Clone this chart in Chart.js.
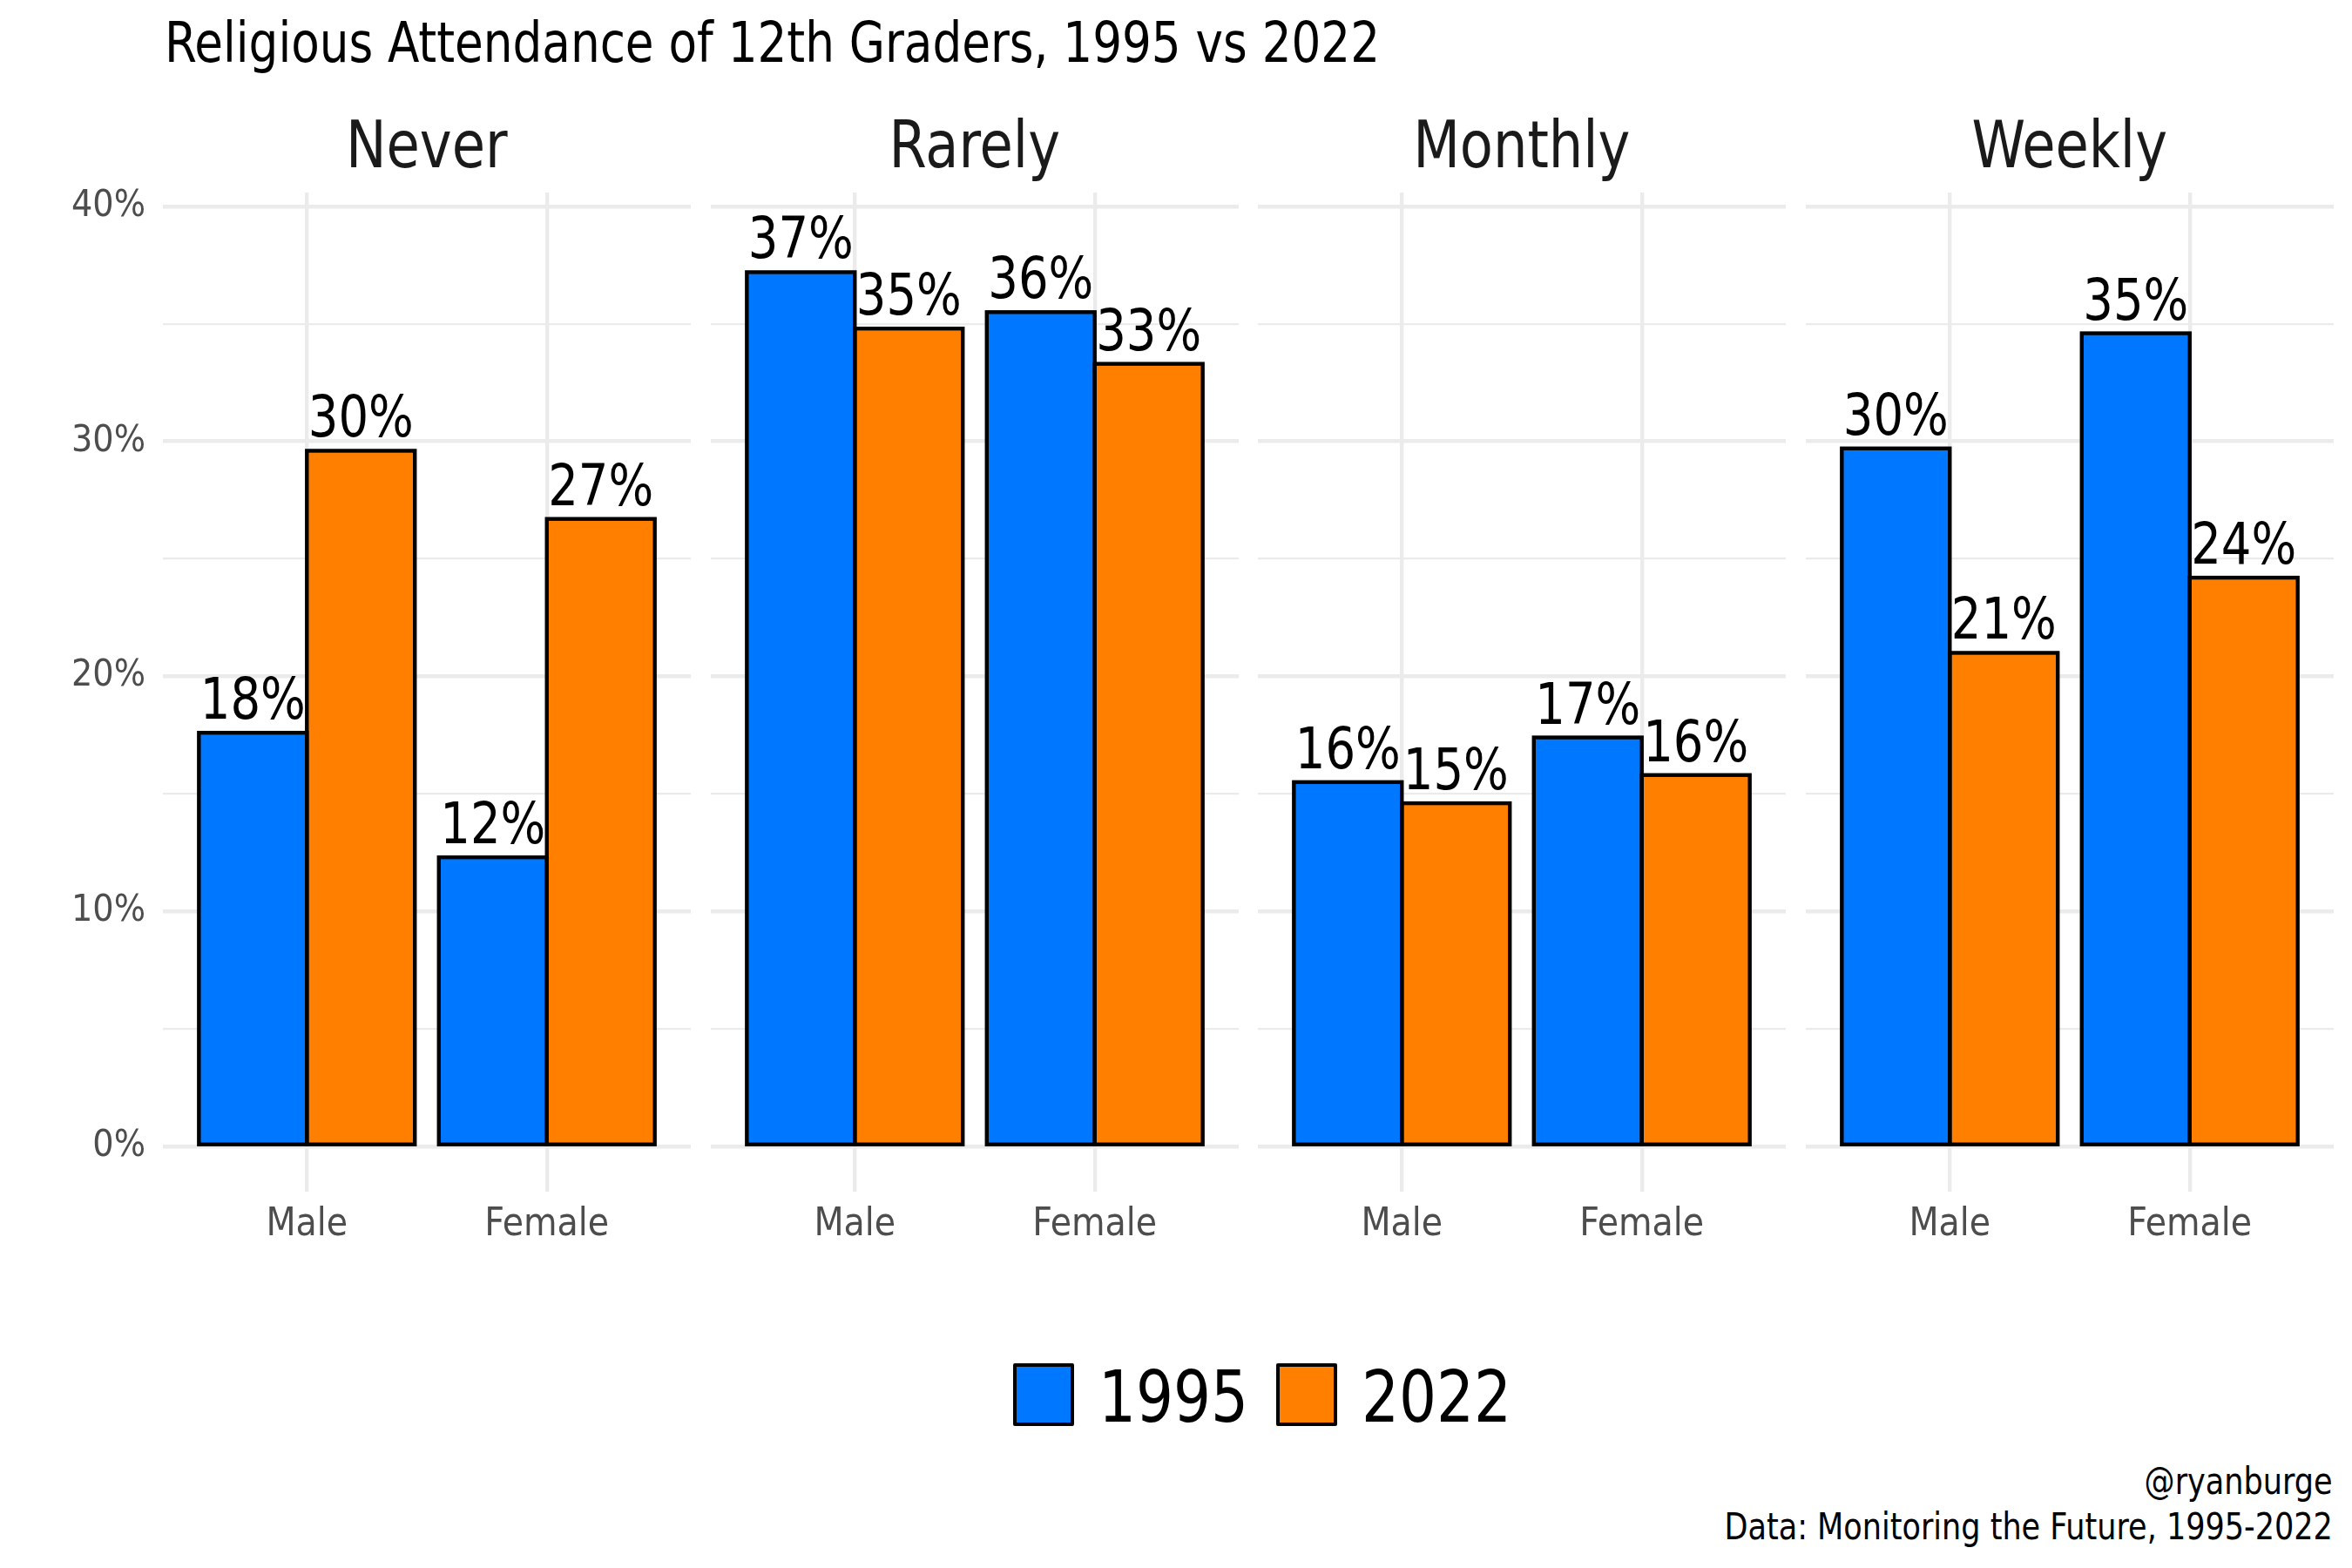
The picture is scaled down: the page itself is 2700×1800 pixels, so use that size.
<!DOCTYPE html>
<html>
<head>
<meta charset="utf-8">
<script src="https://cdn.jsdelivr.net/npm/chart.js@4.4.1/dist/chart.umd.min.js"></script>
<style>
  html, body { margin:0; padding:0; background:#fff; }
  body { width:2700px; height:1800px; position:relative; overflow:hidden;
         font-family:'DejaVu Sans Condensed','DejaVu Sans',sans-serif; }
  .t { position:absolute; white-space:nowrap; line-height:1; }
  canvas { position:absolute; }
  .key { position:absolute; box-sizing:border-box; border:4.4px solid #000; border-radius:2px; }
</style>
</head>
<body>
<div class="t cond" id="title" data-origin="left" style="left:189px; top:17px; font-size:64.5px; color:#000;">Religious Attendance of 12th Graders, 1995 vs 2022</div>
<div id="strips"></div>
<div id="charts"></div>
<div class="key" style="left:1163px; top:1565px; width:70px; height:72px; background:#0077FF;"></div>
<div class="t cond" data-origin="left" style="left:1261px; top:1563px; font-size:82px; color:#000;">1995</div>
<div class="key" style="left:1465px; top:1565px; width:70px; height:72px; background:#FF7F00;"></div>
<div class="t cond" data-origin="left" style="left:1563px; top:1563px; font-size:82px; color:#000;">2022</div>
<div class="t cond" data-origin="right" style="right:22px; top:1680px; font-size:42.5px; color:#000; text-align:right;">@ryanburge</div>
<div class="t cond" data-origin="right" style="right:22px; top:1732px; font-size:42.5px; color:#000; text-align:right;">Data: Monitoring the Future, 1995-2022</div>
<script>
// ---- data ----
const facets   = ['Never', 'Rarely', 'Monthly', 'Weekly'];
const genders  = ['Male', 'Female'];
const years    = ['1995', '2022'];
const never1995   = [17.6, 12.3];
const never2022   = [29.6, 26.7];
const rarely1995  = [37.2, 35.5];
const rarely2022  = [34.8, 33.3];
const monthly1995 = [15.5, 17.4];
const monthly2022 = [14.6, 15.8];
const weekly1995  = [29.7, 34.6];
const weekly2022  = [21.0, 24.2];
const yTicks = [0, 5, 10, 15, 20, 25, 30, 35, 40];
const yMajor = [0, 10, 20, 30, 40];

const series1995 = [never1995, rarely1995, monthly1995, weekly1995];
const series2022 = [never2022, rarely2022, monthly2022, weekly2022];
const colors = ['#0077FF', '#FF7F00'];

// ---- layout ----
const FONT = "'DejaVu Sans Condensed','DejaVu Sans',sans-serif";
const panelW = 605.6, gap = 22.9, firstLeft = 187;
const panelTop = 221, panelBottom = 1368;
const canvasTop = 150, padTop = panelTop - canvasTop, xAxisH = 72;
const yAxisW = firstLeft;

const stripHost = document.getElementById('strips');
facets.forEach((name, fi) => {
  const pLeft = firstLeft + fi * (panelW + gap);
  const strip = document.createElement('div');
  strip.className = 't cond';
  strip.dataset.origin = 'center';
  strip.style.cssText = `left:${pLeft}px; width:${panelW}px; top:129px; font-size:75.5px; color:#1a1a1a; text-align:center;`;
  strip.textContent = name;
  stripHost.appendChild(strip);
});

// condense factor: the reference face is narrower than the installed one
const titleEl = document.getElementById('title');
const K = Math.min(1, 1395 / titleEl.getBoundingClientRect().width);
document.querySelectorAll('.cond').forEach(el => {
  el.style.transformOrigin = (el.dataset.origin || 'left') + ' center';
  el.style.transform = `scaleX(${K})`;
});

const outlinePlugin = {
  id: 'outlineAndLabels',
  afterDatasetsDraw(chart) {
    const ctx = chart.ctx;
    ctx.save();
    ctx.lineWidth = 4.4;
    ctx.strokeStyle = '#000';
    ctx.lineJoin = 'miter';
    chart.data.datasets.forEach((ds, di) => {
      const meta = chart.getDatasetMeta(di);
      meta.data.forEach(el => {
        const p = el.getProps(['x', 'y', 'base', 'width'], true);
        ctx.strokeRect(p.x - p.width / 2, p.y, p.width, p.base - p.y);
      });
    });
    ctx.fillStyle = '#000';
    ctx.font = '66px ' + FONT;
    ctx.textAlign = 'center';
    ctx.textBaseline = 'alphabetic';
    chart.data.datasets.forEach((ds, di) => {
      const meta = chart.getDatasetMeta(di);
      meta.data.forEach((el, i) => {
        const p = el.getProps(['x', 'y'], true);
        ctx.save();
        ctx.translate(p.x, p.y - 16);
        ctx.scale(K, 1);
        ctx.fillText(Math.round(ds.data[i].y) + '%', 0, 0);
        ctx.restore();
      });
    });
    ctx.restore();
  }
};

const chartHost = document.getElementById('charts');
facets.forEach((name, fi) => {
  const pLeft = firstLeft + fi * (panelW + gap);
  const first = fi === 0;
  const cLeft = first ? 0 : Math.round(pLeft);
  const cW = first ? Math.round(pLeft + panelW) : Math.round(panelW);
  const cH = padTop + (panelBottom - panelTop) + xAxisH;
  const cv = document.createElement('canvas');
  cv.width = cW; cv.height = cH;
  cv.style.left = cLeft + 'px'; cv.style.top = canvasTop + 'px';
  cv.style.width = cW + 'px'; cv.style.height = cH + 'px';
  chartHost.appendChild(cv);

  new Chart(cv.getContext('2d'), {
    type: 'bar',
    data: {
      datasets: years.map((yr, yi) => ({
        label: yr,
        data: (yi === 0 ? series1995 : series2022)[fi].map((v, gi) => ({ x: gi + 1, y: v })),
        backgroundColor: colors[yi],
        borderWidth: 0,
        categoryPercentage: 0.9,
        barPercentage: 1.0
      }))
    },
    options: {
      responsive: false,
      animation: false,
      devicePixelRatio: 1,
      layout: { padding: { top: padTop, left: 0, right: 0, bottom: 0 } },
      plugins: { legend: { display: false }, tooltip: { enabled: false }, title: { display: false } },
      scales: {
        x: {
          type: 'linear',
          min: 0.4, max: 2.6,
          offset: false,
          afterBuildTicks: s => { s.ticks = genders.map((g, i) => ({ value: i + 1 })); },
          afterFit: s => { s.height = xAxisH; },
          grid: { color: '#ebebeb', lineWidth: 4.4, drawTicks: false, offset: false },
          border: { display: false },
          ticks: {
            callback: v => genders[v - 1],
            color: '#4d4d4d',
            font: { family: FONT, size: 44 },
            padding: 12,
            maxRotation: 0,
            autoSkip: false
          }
        },
        y: {
          type: 'linear',
          min: -1.93, max: 40.59,
          afterBuildTicks: s => { s.ticks = yTicks.map(v => ({ value: v })); },
          afterFit: s => { s.width = first ? yAxisW : 0; },
          grid: {
            color: '#ebebeb',
            lineWidth: c => (yMajor.includes(c.tick && c.tick.value) ? 4.4 : 2.2),
            drawTicks: false
          },
          border: { display: false },
          ticks: {
            display: first,
            callback: v => (yMajor.includes(v) ? v + '%' : ''),
            color: '#4d4d4d',
            font: { family: FONT, size: 42.5 },
            padding: 20,
            autoSkip: false
          }
        }
      }
    },
    plugins: [outlinePlugin]
  });
});
</script>
</body>
</html>
